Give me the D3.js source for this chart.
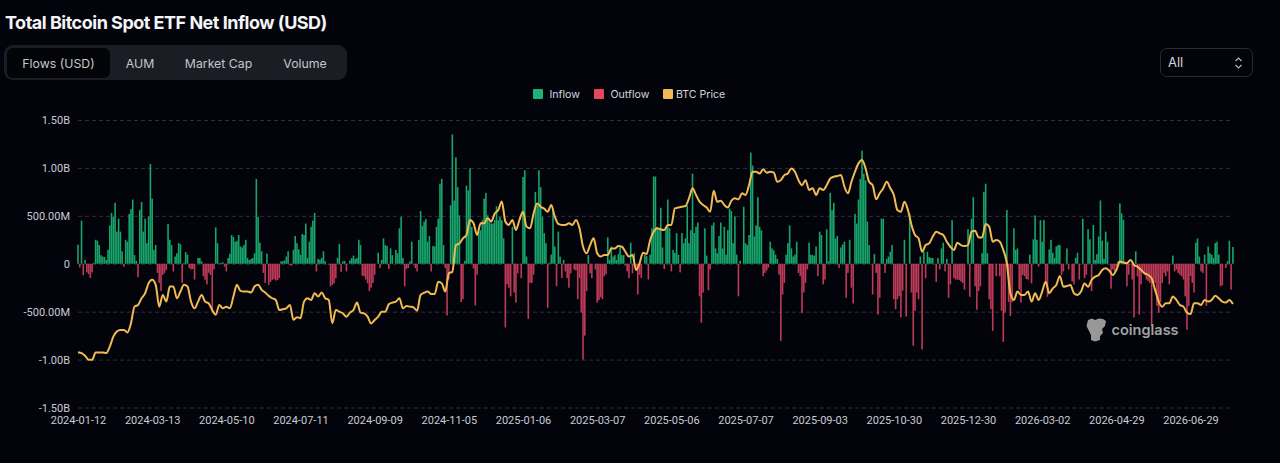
<!DOCTYPE html>
<html>
<head>
<meta charset="utf-8">
<script src="https://cdn.jsdelivr.net/npm/d3@7"></script>
<style>
  html, body { margin: 0; padding: 0; background: #03040b; overflow: hidden; }
  svg { display: block; font-family: Inter, "Noto Sans", sans-serif; }
</style>
</head>
<body>
<div id="chart"></div>
<script>
// Tick labels
const dateLabels = ["2024-01-12","2024-03-13","2024-05-10","2024-07-11","2024-09-09","2024-11-05","2025-01-06","2025-03-07","2025-05-06","2025-07-07","2025-09-03","2025-10-30","2025-12-30","2026-03-02","2026-04-29","2026-06-29"];
const flowTicks = [1500, 1000, 500, 0, -500, -1000, -1500];
const flowTickLabels = ["1.50B", "1.00B", "500.00M", "0", "-500.00M", "-1.00B", "-1.50B"];
const tabs = ["Flows (USD)", "AUM", "Market Cap", "Volume"];
const legendItems = ["Inflow", "Outflow", "BTC Price"];

// Daily net flow, million USD
const flows = [
200,-40,450,-120,40,-90,-110,-150,-90,10,250,240,195,90,75,70,40,145,400,530,490,635,335,470,335,130,-30,250,230,520,570,670,90,30,-140,560,645,335,470,215,495,1040,680,145,195,
-95,-200,-285,-115,-95,-65,415,250,195,-80,75,110,215,205,-200,10,120,95,-45,-60,-55,-165,0,60,60,25,-130,-165,-215,-95,-115,-510,-60,380,215,5,10,15,-30,-80,60,105,300,280,230,240,300,180,170,195,250,60,40,50,60,110,885,490,220,130,-95,-200,105,-220,-190,-170,-160,-175,-170,-150,25,25,35,75,130,-15,-20,145,290,215,150,95,310,300,420,60,230,385,450,530,-80,50,40,60,130,25,0,-10,-235,-220,-205,-150,60,205,-85,
25,30,-80,0,35,60,85,50,60,250,195,-125,-130,-165,-205,-285,-250,-200,-115,0,115,-45,40,265,195,185,-55,160,90,0,145,110,370,490,60,-235,-55,-45,25,230,-10,-45,-80,250,550,395,440,465,230,290,-80,185,180,385,470,835,885,195,-45,-540,-165,610,1350,660,1110,800,505,-400,-370,30,815,765,995,385,-50,-435,-115,335,350,455,680,740,505,440,420,420,455,600,455,490,455,265,-665,-215,-250,-340,385,-300,-405,-100,0,-150,905,975,75,-575,-200,-200,-115,750,610,975,800,490,320,215,-460,10,95,560,180,-235,335,75,-150,40,-80,-150,-250,-100,0,-60,-70,-370,-150,-510,-1000,-750,-285,90,-100,-150,0,-60,-405,-380,-350,-370,-130,-110,275,40,180,75,90,40,100,170,90,90,-20,-80,-150,220,-100,110,-60,-320,-115,
-150,0,95,80,-165,95,370,910,910,385,350,585,170,-55,385,670,370,-80,145,115,320,95,-90,320,215,265,610,215,350,940,320,385,430,-340,-615,-300,370,85,-275,-60,400,430,160,110,290,430,160,385,95,350,575,550,215,495,95,-340,30,0,595,215,195,300,1160,1025,285,400,695,385,350,-130,-95,-70,-40,230,160,140,95,50,-115,-805,-320,-200,95,215,400,160,75,95,230,-95,-130,-515,-300,-200,-60,220,95,90,85,180,-130,335,300,-215,-165,360,25,740,560,635,265,290,-45,170,200,230,-355,-95,250,-250,-415,520,420,670,885,1180,940,870,440,195,0,-320,100,-95,-530,-355,470,470,-95,50,75,125,195,-370,-475,-370,-340,-560,-280,250,-550,0,520,-300,-855,-490,-300,-370,75,-895,125,-150,125,70,60,60,0,-190,60,
-60,160,220,-80,50,-355,-215,455,-150,-165,-165,-170,-185,-200,-270,0,360,-345,470,695,-235,-480,-285,-235,110,750,835,110,-370,-475,-700,0,-130,0,-130,-490,-815,-510,560,-400,-545,-400,370,145,160,-270,-405,-115,-130,-160,-165,95,-205,255,505,250,-30,455,230,455,-195,-345,150,250,115,60,180,195,195,-115,-80,0,160,-60,0,-185,-215,60,115,-165,0,470,-150,-115,360,255,-285,405,40,100,285,660,240,50,335,230,0,-260,-60,-80,-30,25,630,525,460,0,-235,-115,0,-165,-560,130,-130,-530,-215,-80,-115,-165,-180,-200,-650,-200,-200,-440,-510,-400,-200,-95,-130,-80,-215,0,85,-80,-60,-95,-115,-130,-165,-340,-690,-440,-130,-200,-300,220,265,75,-80,-95,95,-440,180,110,95,60,215,230,95,-235,-225,0,-45,25,240,-270,175
];

// BTC price every second session, thousand USD
const priceStep = 2;
const price = [
43.1,42.7,41.6,39.9,39.9,43,43,43,42.7,45.4,49.6,51.7,52.4,52.4,51.3,55.2,62.1,62.8,65.6,67.7,71.9,73.3,71.2,62.1,67,64.2,70.5,70.5,65.6,68.4,71.2,70.5,64.2,61.4,64.2,67,64.2,63.5,60.7,58.7,62.8,61.4,62.1,61.4,66.3,71.2,68.7,68.4,68.4,68,70.5,71.2,69.1,68,66.6,65.6,64.9,60.7,61,61.4,62.8,56.6,57.7,57.3,64.2,65.6,64.9,67.7,66.3,68,65.6,64.9,55.2,60.7,60,
59.3,57.9,59.6,60.7,63.8,59.6,59.3,57.9,55.1,56.5,57.9,60,60,63.1,63.8,64.2,65.6,61.4,62.4,62.1,61.8,60.4,67,67.9,68.4,67.4,67.4,72.5,71.8,68.4,76,76.7,87.8,88.5,90.6,92,98.3,96.9,92,96.9,96.9,99,97.6,101,102.4,106,97.6,96.2,98.3,94.1,98.3,101.7,95.5,94.8,101,105.2,103.8,103,101.7,104.5,99.7,96.6,96.2,96.2,96.9,96.2,98.3,94.8,87.1,84.4,87.8,90.6,84.4,83,83.7,83.7,86.4,86.4,87.4,87.1,85,83,83.7,77.4,
80.2,84.6,84.1,89.9,93.4,94.8,94.3,94.1,96.2,96.2,103.1,103.5,103.8,104.1,107.3,111.5,108.7,105.9,104.5,103.5,101.7,110.5,105.9,106.3,104.5,103.5,106.3,107.3,106.9,109.4,108.7,112.8,118.4,118.4,117.7,119.4,118,118.4,118,114.2,114.9,117,117.7,119.8,118.4,114.9,112.8,114.9,110.8,111.5,108.7,111.5,110.8,112.8,115.6,116.3,116.6,117,112.2,109.4,114.2,118.4,121.9,123.3,119.8,114.2,112.8,106.9,109.4,111.5,114.2,111.5,108.7,102.4,101.7,105.9,102.4,96.2,92,90.6,85,87.8,88.5,91.3,93.4,
92.7,92,89.2,87.1,85.7,88.8,87.8,87.4,87.8,93.4,93.8,91,91,96.6,95.5,89.2,89.9,89.2,85.7,80.2,67.7,64.9,68.4,67,67,68.4,64.2,67.7,64.9,68.4,72.5,67.7,69.7,71.1,74.9,70.4,70.7,71.1,67.7,67,68.4,71.8,70.4,73.2,74.6,75.3,77.4,78.1,77.1,75.3,77.4,80.9,80.5,80.2,81.6,79.5,78.8,77.4,76,75.3,73.9,69,64.2,62.1,63.5,63.5,66.3,64.9,62.8,62.1,59.6,59,63.5,63.5,62.8,64.9,64.2,64.9,66.6,65.6,64.2,63.8,64.9,63.2
];

const colors = { inflow: "#17a56c", outflow: "#bd3a58", inflowKey: "#1cb577", outflowKey: "#e8455e", price: "#f2bb52", text: "#c9cbd2", grid: "#2f3036" };

const WIDTH = 1280, HEIGHT = 463;
const MARGIN = { LEFT: 78, RIGHT: 1233, TOP: 120, BOTTOM: 407.5 };
const TICK_EVERY = 42;

const svg = d3.select("#chart").append("svg").attr("width", WIDTH).attr("height", HEIGHT);
svg.append("rect").attr("width", WIDTH).attr("height", HEIGHT).attr("fill", "#03040b");

// Title
svg.append("text")
  .attr("x", 5).attr("y", 29)
  .attr("fill", "#f4f5f7")
  .attr("font-size", 18).attr("font-weight", 700).attr("letter-spacing", "-0.5px")
  .text("Total Bitcoin Spot ETF Net Inflow (USD)");

// Tabs
svg.append("rect").attr("x", 4).attr("y", 45).attr("width", 343).attr("height", 35).attr("rx", 9).attr("fill", "#1b1d25");
svg.append("rect").attr("x", 7).attr("y", 48).attr("width", 103).attr("height", 30).attr("rx", 6).attr("fill", "#030407");
const tabX = [58.5, 140, 218.5, 305];
svg.selectAll(".tab").data(tabs).enter().append("text")
  .attr("class", "tab")
  .attr("x", (d, i) => tabX[i]).attr("y", 67.5)
  .attr("text-anchor", "middle")
  .attr("fill", "#c4c6cd").attr("font-size", 12.3)
  .text(d => d);

// Range select
svg.append("rect").attr("x", 1160.5).attr("y", 48.5).attr("width", 92).attr("height", 28).attr("rx", 6)
  .attr("fill", "none").attr("stroke", "#2a2b31");
svg.append("text").attr("x", 1168).attr("y", 67).attr("fill", "#d6d7dc").attr("font-size", 13).text("All");
svg.append("path")
  .attr("d", "M1235.5 61 L1238.5 58 L1241.5 61 M1235.5 65 L1238.5 68 L1241.5 65")
  .attr("fill", "none").attr("stroke", "#b5b6bc").attr("stroke-width", 1.2);

// Legend
const legendKeys = [colors.inflowKey, colors.outflowKey, colors.price];
const legendX = [533, 594, 663];
const legend = svg.selectAll(".legend").data(legendItems).enter().append("g")
  .attr("class", "legend")
  .attr("transform", (d, i) => "translate(" + legendX[i] + ",88)");
legend.append("rect").attr("y", 1).attr("width", 10).attr("height", 10).attr("rx", 1).attr("fill", (d, i) => legendKeys[i]);
legend.append("text").attr("x", (d, i) => i == 2 ? 13 : 16.5).attr("y", 9.5)
  .attr("fill", "#d6d7dc").attr("font-size", 10.6).text(d => d);

// Scales
const x = d3.scaleLinear().domain([0, TICK_EVERY * 15]).range([MARGIN.LEFT, 1190.5]);
const y = d3.scaleLinear().domain([-1500, 1500]).range([MARGIN.BOTTOM, MARGIN.TOP]);
// The price scale is not shown on the chart
const yPrice = d3.scaleLinear().domain([20, 140]).range([MARGIN.BOTTOM, MARGIN.TOP]);

// Grid + y axis
const yAxis = svg.append("g")
  .attr("transform", "translate(" + MARGIN.LEFT + ",0)")
  .call(d3.axisLeft(y).tickValues(flowTicks).tickSize(-(MARGIN.RIGHT - MARGIN.LEFT)).tickPadding(8)
    .tickFormat((d, i) => flowTickLabels[i]));
yAxis.select(".domain").remove();
yAxis.selectAll("line").attr("stroke", colors.grid).attr("stroke-dasharray", "4 3");
yAxis.selectAll("text").attr("fill", colors.text).attr("font-size", 11).attr("font-family", "Roboto, sans-serif");

// X axis
const xAxis = svg.append("g")
  .attr("transform", "translate(0," + (MARGIN.BOTTOM + 2) + ")")
  .call(d3.axisBottom(x).tickValues(dateLabels.map((d, i) => i * TICK_EVERY)).tickSize(0).tickPadding(7)
    .tickFormat((d, i) => dateLabels[i]));
xAxis.select(".domain").remove();
xAxis.selectAll("text").attr("fill", colors.text).attr("font-size", 11).attr("font-family", "Roboto, sans-serif");

// Bars
svg.append("g").selectAll("rect").data(flows).enter().append("rect")
  .attr("x", (d, i) => x(i) - 0.8)
  .attr("width", 1.6)
  .attr("y", d => y(Math.max(d, 0)))
  .attr("height", d => Math.abs(y(d) - y(0)))
  .attr("fill", d => d >= 0 ? colors.inflow : colors.outflow);

// Price line
svg.append("path").datum(price)
  .attr("fill", "none")
  .attr("stroke", colors.price)
  .attr("stroke-width", 2)
  .attr("stroke-linejoin", "round")
  .attr("d", d3.line().x((d, i) => x(i * priceStep)).y(d => yPrice(d)).curve(d3.curveMonotoneX));

// Watermark
svg.append("path")
  .attr("d", "M1088 320 L1092 318.5 L1095 320 L1099 318.5 L1103 319 L1106 321 L1105 326 L1102 329 L1103 333 L1100 336 L1100 340 L1095 341.5 L1091 340 L1091 335 L1089 331 L1086.5 326 Z")
  .attr("fill", "#a9a9a9").attr("opacity", 0.9);
svg.append("text")
  .attr("x", 1111.5).attr("y", 335)
  .attr("fill", "#a2a2a2").attr("font-size", 14.5).attr("font-weight", 600)
  .text("coinglass");
</script>
</body>
</html>
